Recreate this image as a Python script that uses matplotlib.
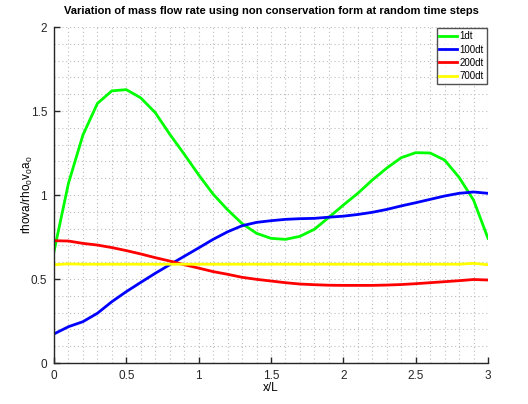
import numpy as np
import matplotlib
matplotlib.use("Agg")
import matplotlib.pyplot as plt

plt.rcParams['font.family'] = ['Liberation Sans', 'DejaVu Sans']
plt.rcParams['mathtext.fontset'] = 'custom'
plt.rcParams['mathtext.rm'] = 'Liberation Sans'
plt.rcParams['mathtext.it'] = 'Liberation Sans'

x = [round(0.1 * i, 1) for i in range(31)]

dt1 = [0.663, 1.07, 1.357, 1.545, 1.62, 1.627, 1.578, 1.49, 1.362, 1.243,
       1.12, 1.005, 0.912, 0.83, 0.772, 0.742, 0.736, 0.754, 0.796, 0.867,
       0.94, 1.01, 1.089, 1.16, 1.222, 1.252, 1.25, 1.208, 1.105, 0.97, 0.742]
dt100 = [0.173, 0.216, 0.246, 0.296, 0.365, 0.425, 0.48, 0.534, 0.585, 0.635,
         0.685, 0.736, 0.781, 0.817, 0.837, 0.847, 0.855, 0.859, 0.861, 0.868,
         0.874, 0.884, 0.897, 0.914, 0.935, 0.954, 0.974, 0.994, 1.01, 1.018, 1.01]
dt200 = [0.728, 0.726, 0.712, 0.702, 0.687, 0.669, 0.649, 0.627, 0.607, 0.585,
         0.565, 0.544, 0.528, 0.51, 0.498, 0.488, 0.478, 0.47, 0.466, 0.463,
         0.462, 0.462, 0.462, 0.464, 0.467, 0.472, 0.478, 0.484, 0.49, 0.497, 0.494]
dt700 = [0.585, 0.59, 0.588, 0.588, 0.588, 0.588, 0.588, 0.588, 0.588, 0.588,
         0.588, 0.588, 0.588, 0.588, 0.588, 0.588, 0.588, 0.588, 0.588, 0.588,
         0.588, 0.588, 0.588, 0.588, 0.588, 0.588, 0.588, 0.588, 0.588, 0.593, 0.585]

series = [(dt1, '#00ff00', '1dt'), (dt100, '#0000ff', '100dt'),
          (dt200, '#ff0000', '200dt'), (dt700, '#ffff00', '700dt')]

fig = plt.figure(figsize=(5.28, 4.04), dpi=100)
ax = fig.add_axes([54/528, 1 - 363/404, (488-54)/528, (363-27)/404])

for y, c, lab in series:
    ax.plot(x, y, color=c, lw=2, label=lab)

ax.set_xlim(0, 3)
ax.set_ylim(0, 2)
ax.set_xticks([0, 0.5, 1, 1.5, 2, 2.5, 3])
ax.set_xticklabels(['0', '0.5', '1', '1.5', '2', '2.5', '3'])
ax.set_yticks([0, 0.5, 1, 1.5, 2])
ax.set_yticklabels(['0', '0.5', '1', '1.5', '2'])
ax.set_xticks(np.arange(0, 3.01, 0.1), minor=True)
ax.set_yticks(np.arange(0, 2.01, 0.1), minor=True)
ax.grid(True, which='both', color='#bdbdbd', linestyle=(0, (1, 2.5)), lw=0.8)
ax.tick_params(which='major', direction='in', length=4, width=1, labelsize=8.5,
               colors='#262626', pad=5)
ax.tick_params(which='minor', length=0)
for s in ['top', 'right']:
    ax.spines[s].set_visible(False)
for s in ['left', 'bottom']:
    ax.spines[s].set_color('#262626')
    ax.spines[s].set_linewidth(1)

ax.set_title('Variation of mass flow rate using non conservation form at random time steps',
             fontsize=8, fontweight='bold', pad=9)
ax.set_xlabel('x/L', fontsize=8.5, labelpad=0)
ax.set_ylabel(r'rhova/rho$_0$v$_0$a$_0$', fontsize=8.5)
ax.yaxis.set_label_coords(-0.044, 0.5)

leg = ax.legend(loc='upper right', fontsize=7, frameon=True, fancybox=False,
                edgecolor='#262626', handlelength=1.8, handletextpad=0.25,
                borderpad=0.3, labelspacing=0.33, borderaxespad=0.15)
leg.get_frame().set_linewidth(1)

fig.savefig('out.png', dpi=100)
